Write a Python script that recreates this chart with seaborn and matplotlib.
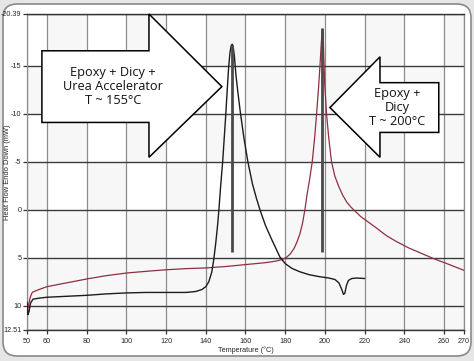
import numpy as np
import pandas as pd
import matplotlib
matplotlib.use("Agg")
import matplotlib.pyplot as plt
import seaborn as sns
from matplotlib.patches import FancyBboxPatch, Polygon, Rectangle

# DSC traces (Temperature in degC, heat flow in mW, endo down)
temp_urea = [50.0, 50.5, 51.0, 51.8, 53.0, 56, 60, 70, 80, 90, 100, 110, 120, 130, 135, 138,
             140, 141.5, 143, 144, 145, 146, 146.6, 147.5, 148.5, 149.3, 150.1, 150.8, 151.5,
             152.2, 152.8, 153.3, 153.8, 154.4, 155.2, 156.3, 157.5, 159.2, 161.2, 163.5,
             165.5, 167.3, 170, 173, 177.3, 180, 183.4, 187.4, 192, 197, 202, 205, 207,
             208.3, 209.3, 210.0, 210.8, 211.8, 213.5, 216, 220]
flow_urea = [9.6, 10.9, 10.6, 9.7, 9.3, 9.2, 9.1, 9.0, 8.9, 8.75, 8.65, 8.6, 8.6, 8.6, 8.5, 8.3,
             8.0, 7.5, 6.5, 5.2, 3.5, 1.5, 0.0, -2.5, -5.0, -7.5, -10.0, -12.5, -14.8,
             -16.4, -17.1, -17.25, -17.0, -16.0, -14.0, -12.0, -10.0, -7.5, -5.0, -2.7,
             -1.2, 0.0, 1.6, 3.0, 4.9, 5.6, 6.1, 6.45, 6.75, 6.95, 7.1, 7.25, 7.6,
             8.2, 8.8, 8.7, 7.9, 7.35, 7.15, 7.1, 7.15]

temp_dicy = [50.0, 50.6, 51.5, 52.5, 53.0, 56, 60, 70, 80, 90, 100, 110, 120, 130, 140, 150,
             160, 170, 175, 178, 180.3, 182.5, 184.5, 186, 187.4, 188.7, 189.9, 191, 192.3,
             193.6, 194.8, 195.8, 196.7, 197.5, 198.2, 198.7, 199.0, 199.4, 199.9, 200.8,
             201.9, 203.3, 205.0, 207, 209, 211, 213, 215, 218, 222, 226, 231, 236, 242,
             249.3, 255, 262, 270]
flow_dicy = [9.6, 10.2, 9.2, 8.65, 8.55, 8.3, 8.0, 7.6, 7.2, 6.85, 6.58, 6.4, 6.24, 6.12, 6.05, 5.9,
             5.7, 5.5, 5.35, 5.2, 5.0, 4.6, 4.0, 3.3, 2.5, 1.4, 0.0, -1.6, -3.2,
             -5.0, -7.5, -10.0, -12.5, -15.0, -17.5, -18.8, -18.7, -16.0, -13.0, -10.0,
             -7.5, -5.0, -3.5, -2.4, -1.5, -0.8, -0.3, 0.1, 0.7, 1.3, 1.9, 2.7, 3.3, 3.95,
             4.6, 5.1, 5.65, 6.3]

# peak markers: temperature, peak value, baseline end
peak_temps = [153.2, 198.5]
peak_tops = [-17.2, -18.9]
peak_base = 4.4

x_ticks = [50, 60, 80, 100, 120, 140, 160, 180, 200, 220, 240, 260, 270]
y_ticks = [-20.39, -15, -10, -5, 0, 5, 10, 12.51]
y_tick_labels = ["-20.39", "-15", "-10", "-5", "0", "5", "10", "12.51"]

label_urea = "Epoxy + Dicy +\nUrea Accelerator\nT ~ 155°C"
label_dicy = "Epoxy +\nDicy\nT ~ 200°C"

sns.set_theme(style="white")
plt.rcParams["font.family"] = ["Liberation Sans Narrow", "Liberation Sans", "DejaVu Sans"]

fig = plt.figure(figsize=(4.74, 3.61), dpi=100, facecolor="#e6e6e6")
frame = FancyBboxPatch((0.03, 0.05), 4.68, 3.52,
                       boxstyle="round,pad=0,rounding_size=0.14",
                       transform=fig.dpi_scale_trans, facecolor="white",
                       edgecolor="#8a8a8a", linewidth=1.2, zorder=-10)
fig.patches.append(frame)
ax = fig.add_axes([27 / 474, 31 / 361, 437 / 474, 316 / 361])
ax.set_facecolor("white")

# very faint checkerboard shading of the grid cells
for i in range(len(x_ticks) - 1):
    for j in range(len(y_ticks) - 1):
        if (i + j) % 2 == 1 or j >= 5:
            ax.add_patch(Rectangle((x_ticks[i], y_ticks[j]), x_ticks[i + 1] - x_ticks[i],
                                   y_ticks[j + 1] - y_ticks[j], facecolor="#f7f7f7",
                                   edgecolor="none", zorder=0))

df_urea = pd.DataFrame({"Temperature": temp_urea, "HeatFlow": flow_urea})
df_dicy = pd.DataFrame({"Temperature": temp_dicy, "HeatFlow": flow_dicy})

sns.lineplot(data=df_dicy, x="Temperature", y="HeatFlow", ax=ax, color="#8e2f3f",
             linewidth=0.9, estimator=None, zorder=4)
sns.lineplot(data=df_urea, x="Temperature", y="HeatFlow", ax=ax, color="#1c1c1c",
             linewidth=1.0, estimator=None, zorder=4)

ax.vlines(peak_temps, peak_tops, peak_base, colors="#4a4a4a", linewidth=2.0, zorder=5)

# block arrows
left_arrow = [(57.5, -16.56), (111.4, -16.56), (111.4, -20.39), (148.1, -12.83),
              (111.4, -5.47), (111.4, -9.1), (57.5, -9.1)]
right_arrow = [(257.3, -13.24), (227.7, -13.24), (227.7, -15.93), (202.5, -10.65),
               (227.7, -5.47), (227.7, -8.06), (257.3, -8.06)]
for pts in (left_arrow, right_arrow):
    ax.add_patch(Polygon(pts, closed=True, facecolor="white", edgecolor="black",
                         linewidth=1.1, zorder=3, clip_on=False))
ax.text(93.3, -12.8, label_urea, ha="center", va="center", fontsize=9.2,
        family=["Open Sans", "DejaVu Sans"], linespacing=1.1, color="#111111", zorder=6)
ax.text(236.2, -10.65, label_dicy, ha="center", va="center", fontsize=9.2,
        family=["Open Sans", "DejaVu Sans"], linespacing=1.1, color="#111111", zorder=6)

ax.set_xlim(50, 270)
ax.set_ylim(12.51, -20.39)
ax.set_xticks(x_ticks)
ax.set_xticklabels([str(t) for t in x_ticks])
ax.set_yticks(y_ticks)
ax.set_yticklabels(y_tick_labels)
ax.tick_params(axis="both", labelsize=5.2, length=3, width=0.9, color="#333333",
               pad=1.0, direction="out", bottom=True, left=True)
ax.tick_params(axis="x", pad=2.5)
ax.xaxis.grid(True, color="#8c8c8c", linewidth=0.9)
ax.yaxis.grid(True, color="#3c3c3c", linewidth=1.0)
ax.set_axisbelow(True)
for side in ("top", "bottom"):
    ax.spines[side].set_color("#333333")
    ax.spines[side].set_linewidth(1.0)
for side in ("left", "right"):
    ax.spines[side].set_color("#8c8c8c")
    ax.spines[side].set_linewidth(0.9)

ax.set_xlabel("Temperature (°C)", fontsize=5.2, labelpad=1)
ax.set_ylabel("Heat Flow Endo Down (mW)", fontsize=5.4)
ax.yaxis.set_label_coords(-0.036, 0.5)

fig.savefig("out.png", dpi=100, facecolor=fig.get_facecolor())
